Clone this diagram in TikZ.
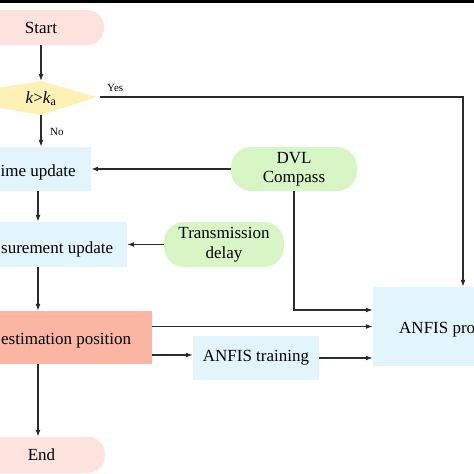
\documentclass[tikz,border=0pt]{standalone}
\usepackage{fontspec}
\setmainfont{Liberation Serif}
\usetikzlibrary{arrows.meta}
\definecolor{pinkc}{HTML}{FDE2DE}
\definecolor{yellowc}{HTML}{FDF1B6}
\definecolor{bluec}{HTML}{E2F4FC}
\definecolor{greenc}{HTML}{D8F5C6}
\definecolor{salmonc}{HTML}{FAB6A2}
\definecolor{linec}{HTML}{2B2B2B}
\begin{document}
\begin{tikzpicture}[x=1pt,y=-1pt,
  font=\fontsize{17}{19.5}\selectfont,
  box/.style={rectangle, draw=none, inner sep=0pt, align=center},
  pill/.style={box, rounded corners=17pt},
  txt/.style={inner sep=0pt},
  small/.style={inner sep=0pt, font=\fontsize{11}{13}\selectfont},
  arr/.style={draw=linec, line width=1.2pt, -{Latex[length=7pt,width=5pt]}},
  ln/.style={draw=linec, line width=1.2pt}]
\path[use as bounding box] (0,0) rectangle (474,474);
\clip (0,0) rectangle (474,474);
\fill[white] (0,0) rectangle (474,474);
\fill[black] (0,0) rectangle (474,3);

% nodes
\node[pill, fill=pinkc, minimum width=126pt, minimum height=35pt] (start) at (41,27.5) {Start};
\fill[yellowc] (41,81) -- (97,97) -- (41,115) -- (-60,97) -- cycle;
\coordinate (dtop) at (41,81);
\coordinate (dright) at (100,97);
\coordinate (dbot) at (41,115);
\node[txt, anchor=base] (cond) at (41,103) {\textit{k}>\textit{k}\textsubscript{a}};
\node[small, anchor=base west] (yes) at (107,91) {Yes};
\node[small, anchor=base west] (no) at (50,135) {No};

\node[box, fill=bluec, minimum width=117pt, minimum height=44pt] (tu) at (32.5,169) {};
\node[txt, anchor=base west] (tut) at (0.5,176) {ime update};

\node[pill, fill=greenc, rounded corners=20pt, minimum width=126pt, minimum height=44pt] (dvl) at (294,169) {DVL\\Compass};

\node[box, fill=bluec, minimum width=178pt, minimum height=45pt] (ms) at (38,244.5) {};
\node[txt, anchor=base west] (mst) at (1,253) {surement update};

\node[pill, fill=greenc, rounded corners=20pt, minimum width=120pt, minimum height=45pt] (trn) at (224,244.5) {Transmission\\delay};

\node[box, fill=salmonc, minimum width=228pt, minimum height=53pt] (es) at (38,337.5) {};
\node[txt, anchor=base west] (est) at (1,344) {estimation position};

\node[box, fill=bluec, minimum width=126pt, minimum height=44pt] (tr) at (256,358) {ANFIS training};

\node[box, fill=bluec, minimum width=186pt, minimum height=79pt] (apro) at (466,326.5) {};
\node[txt, anchor=base west] (aprot) at (399,333) {ANFIS pro};

\node[pill, fill=pinkc, minimum width=127pt, minimum height=36pt] (end) at (41.5,455) {End};

% connectors
\coordinate (yc) at (463,97);
\draw[arr] (start.south) -- (dtop);
\draw[arr] (dright) -- (yc) -- (yc |- apro.north);
\draw[arr] (dbot) -- (dbot |- tu.north);
\draw[arr] (dvl.west) -- (dvl.west -| tu.east);
\draw[arr] (tu.south -| ms.north) -- (ms.north);
\draw[arr] (dvl.south) |- ([yshift=16.5pt]apro.west);
\draw[arr] (trn.west) -- (trn.west -| ms.east);
\draw[arr] (ms.south) -- (es.north);
\draw[arr] (es.east |- apro.west) -- (apro.west);
\draw[arr] ([yshift=-17.5pt]es.east) -- ([yshift=-17.5pt]es.east -| tr.west);
\draw[arr] (tr.east) -- (tr.east -| apro.west);
\draw[arr] (es.south) -- (es.south |- end.north);
\end{tikzpicture}
\end{document}
